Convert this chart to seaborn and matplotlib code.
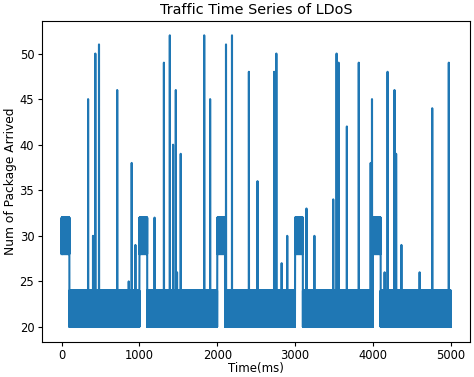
import numpy as np
import pandas as pd
import seaborn as sns
import matplotlib
matplotlib.use('Agg')
import matplotlib.pyplot as plt

# Time axis (ms) and the two packet-count levels the traffic alternates between
duration_ms = 5000
base_levels = [20, 24]          # normal traffic band
burst_levels = [28, 32]         # LDoS burst band
burst_starts = [0, 1000, 2000, 3000, 4000]
burst_length = 100

# Spikes (time in ms, packets)
spike_times = [340, 403, 433, 480, 714, 862, 900, 948, 1194, 1314, 1390, 1432,
               1467, 1483, 1530, 1832, 1908, 2112, 2189, 2406, 2517, 2730,
               2759, 2827, 2899, 3146, 3248, 3490, 3533, 3559, 3665, 3818,
               3971, 3988, 4150, 4188, 4277, 4298, 4366, 4600, 4762, 4975]
spike_values = [45, 30, 50, 51, 46, 25, 38, 29, 32, 49, 52, 40,
                46, 26, 39, 52, 45, 51, 52, 48, 36, 48,
                50, 27, 30, 33, 30, 34, 50, 49, 42, 49,
                38, 45, 26, 48, 46, 39, 29, 26, 44, 49]

# Build the series
t = np.arange(duration_ms + 1)
packets = np.resize(base_levels, len(t)).astype(float)
for s in burst_starts:
    idx = (t >= s) & (t < s + burst_length)
    packets[idx] = np.resize(burst_levels, idx.sum())
for st, sv in zip(spike_times, spike_values):
    packets[st] = sv

df = pd.DataFrame({'Time': t, 'Packets': packets})

plt.rcParams['font.family'] = ['DejaVu Sans']
fig = plt.figure(figsize=(4.74, 3.77), dpi=100)
ax = fig.add_axes([0.089, 0.094, 0.903, 0.851])
sns.lineplot(data=df, x='Time', y='Packets', ax=ax, estimator=None,
             errorbar=None, color='#1f77b4', linewidth=1.5)
ax.set_xlim(-250, 5250)
ax.set_ylim(18.4, 53.6)
ax.set_xticks([0, 1000, 2000, 3000, 4000, 5000])
ax.set_yticks([20, 25, 30, 35, 40, 45, 50])
ax.tick_params(labelsize=8.3, length=2.7, pad=3)
ax.set_title('Traffic Time Series of LDoS', fontsize=10.4, pad=5)
ax.set_xlabel('Time(ms)', fontsize=8.5, labelpad=0)
ax.set_ylabel('Num of Package Arrived', fontsize=8.8, labelpad=2)
plt.savefig('out.png', dpi=100)
plt.close()
